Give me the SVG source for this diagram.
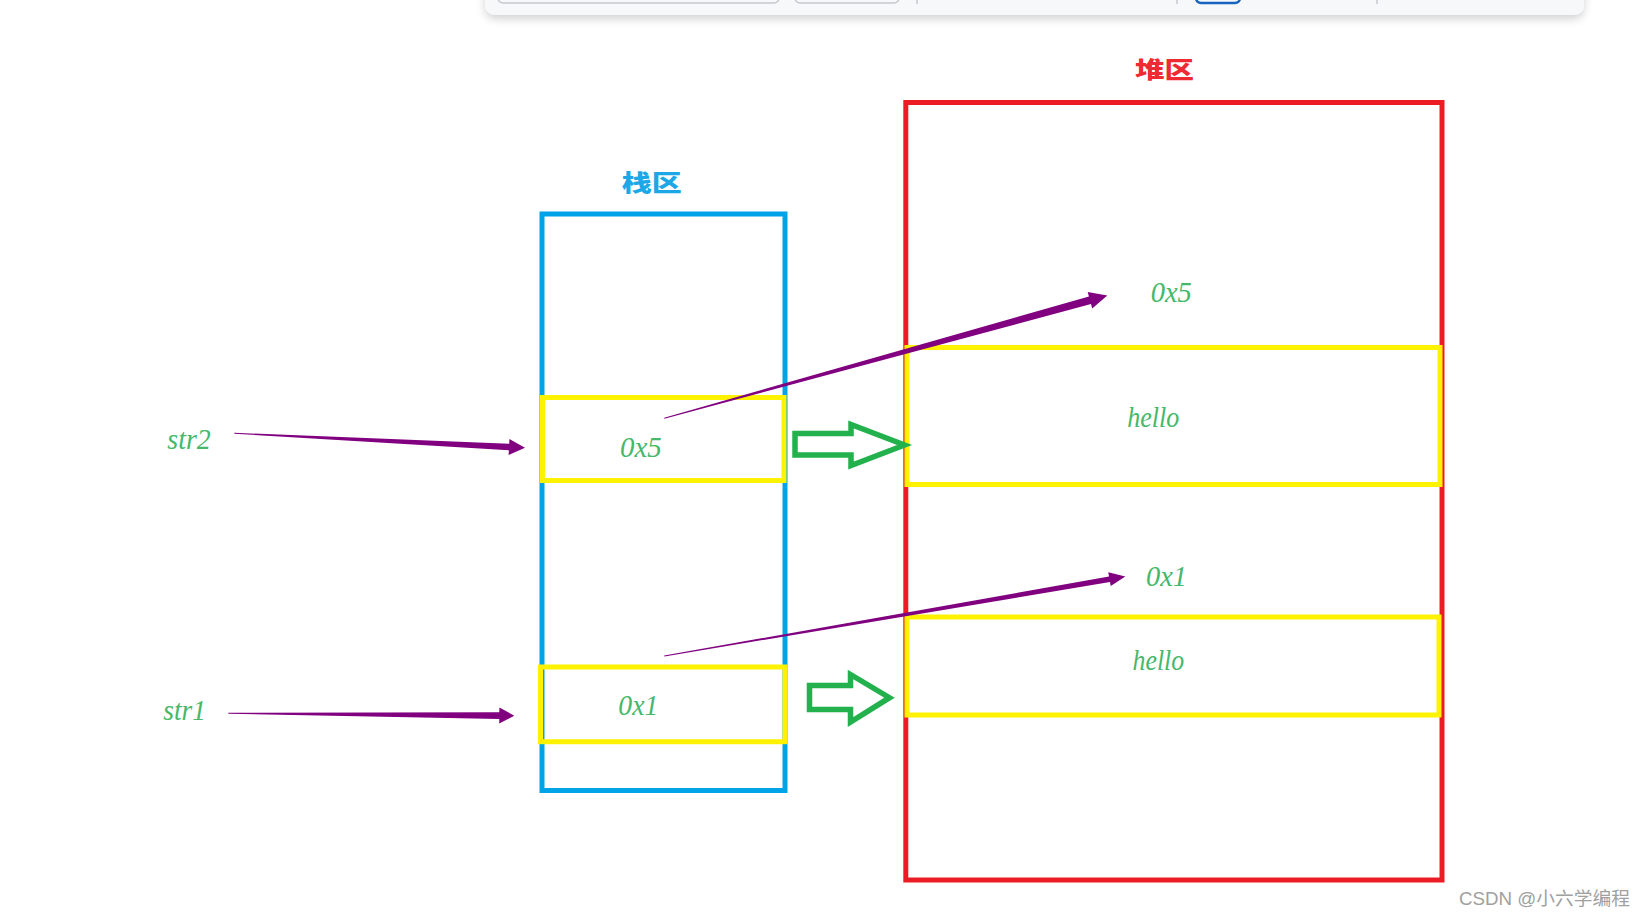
<svg xmlns="http://www.w3.org/2000/svg" width="1646" height="917" viewBox="0 0 1646 917">
<style>
.val{font-family:"Liberation Serif","DejaVu Serif",serif;font-style:italic;font-size:30px;fill:#45b86a}
.title{font-family:"Noto Sans CJK SC","Noto Sans",sans-serif;font-weight:900;font-size:23px}
.cell{fill:none;stroke:#fff200;stroke-width:5}
.barrow{fill:none;stroke:#22b14c;stroke-width:5.5;stroke-linejoin:miter}
.ptr{fill:#800080}
.tb{fill:none;stroke:#c8c8cc;stroke-width:1.5}
</style>
<defs>
<filter id="sh" x="-5%" y="-50%" width="110%" height="250%">
<feGaussianBlur in="SourceAlpha" stdDeviation="5"/>
<feOffset dy="4"/>
<feComponentTransfer><feFuncA type="linear" slope="0.18"/></feComponentTransfer>
<feMerge><feMergeNode/><feMergeNode in="SourceGraphic"/></feMerge>
</filter>
</defs>
<rect width="1646" height="917" fill="#ffffff"/>
<g id="toolbar">
<rect x="485" y="-30" width="1099" height="45" rx="10" fill="#f7f8fa" filter="url(#sh)"/>
<rect class="tb" x="498" y="-20" width="281" height="23" rx="5"/>
<rect class="tb" x="795" y="-20" width="104" height="23" rx="5"/>
<line class="tb" x1="917" y1="0" x2="917" y2="4"/>
<line class="tb" x1="1177" y1="0" x2="1177" y2="4"/>
<line class="tb" x1="1377" y1="0" x2="1377" y2="4"/>
<rect x="1196" y="-20" width="44" height="23" rx="5" fill="none" stroke="#1565c0" stroke-width="2.5"/>
</g>
<g id="stack">
<text class="title" x="651.7" y="191" fill="#1ea7e6" text-anchor="middle" textLength="60" lengthAdjust="spacingAndGlyphs">栈区</text>
<rect x="542" y="214" width="243" height="576.5" fill="none" stroke="#00a2e8" stroke-width="5"/>
</g>
<g id="stack-str2">
<rect class="cell" x="542.5" y="397.5" width="241.5" height="83"/>
<text class="val" x="620" y="456.5" textLength="41.7" lengthAdjust="spacingAndGlyphs">0x5</text>
</g>
<g id="stack-str1">
<rect class="cell" x="540.5" y="667" width="244.5" height="74.7"/>
<text class="val" x="618.3" y="714.5" textLength="40" lengthAdjust="spacingAndGlyphs">0x1</text>
</g>
<g id="heap">
<text class="title" x="1164.5" y="78" fill="#ee2a33" text-anchor="middle" textLength="59" lengthAdjust="spacingAndGlyphs">堆区</text>
<rect x="905.8" y="102.5" width="536.2" height="777.5" fill="none" stroke="#ed1c24" stroke-width="5"/>
</g>
<g id="heap-addr5">
<text class="val" x="1150.7" y="301.5" textLength="41" lengthAdjust="spacingAndGlyphs">0x5</text>
</g>
<g id="heap-hello1">
<rect class="cell" x="907" y="347.5" width="533" height="137"/>
<text class="val" x="1127.3" y="426.5" font-size="31" textLength="52" lengthAdjust="spacingAndGlyphs">hello</text>
</g>
<g id="heap-addr1">
<text class="val" x="1146" y="586.3" textLength="41" lengthAdjust="spacingAndGlyphs">0x1</text>
</g>
<g id="heap-hello2">
<rect class="cell" x="907" y="617" width="532" height="98"/>
<text class="val" x="1132.6" y="669.5" font-size="31" textLength="51.5" lengthAdjust="spacingAndGlyphs">hello</text>
</g>
<g id="var-str2">
<text class="val" x="167.3" y="449" textLength="43.4" lengthAdjust="spacingAndGlyphs">str2</text>
</g>
<g id="var-str1">
<text class="val" x="163.3" y="720" textLength="42.7" lengthAdjust="spacingAndGlyphs">str1</text>
</g>
<g id="connectors">
<polygon class="ptr" points="234.3,432.8 509.2,443.7 509.4,439.0 525,447.8 508.6,455.0 508.9,450.3 234.3,433.8"/>
<polygon class="ptr" points="228.3,712.8 499.3,712.3 499.4,707.6 514.3,715.7 499.2,723.6 499.3,718.9 228.3,713.8"/>
<polygon class="ptr" points="664.2,417.8 1088.9,296.5 1087.7,292.1 1107.3,295.5 1092.2,308.5 1091.0,304.1 664.4,418.8"/>
<polygon class="ptr" points="664.2,655.5 1109.0,576.5 1108.3,572.3 1125.3,576.5 1110.7,586.1 1110.0,582.0 664.4,656.5"/>
<polygon class="barrow" points="795,433.5 851,433.5 851,424.5 904.5,445 851,465.5 851,455 795,455"/>
<polygon class="barrow" points="809.5,685.5 850.5,685.5 850.5,674.5 889.5,697.7 850.5,722 850.5,709.5 809.5,709.5"/>
</g>
<text x="1459" y="905" font-family="'Liberation Sans','Noto Sans CJK SC',sans-serif" font-size="18.5" fill="#a0a0a0" textLength="171" lengthAdjust="spacingAndGlyphs">CSDN @小六学编程</text>
</svg>
